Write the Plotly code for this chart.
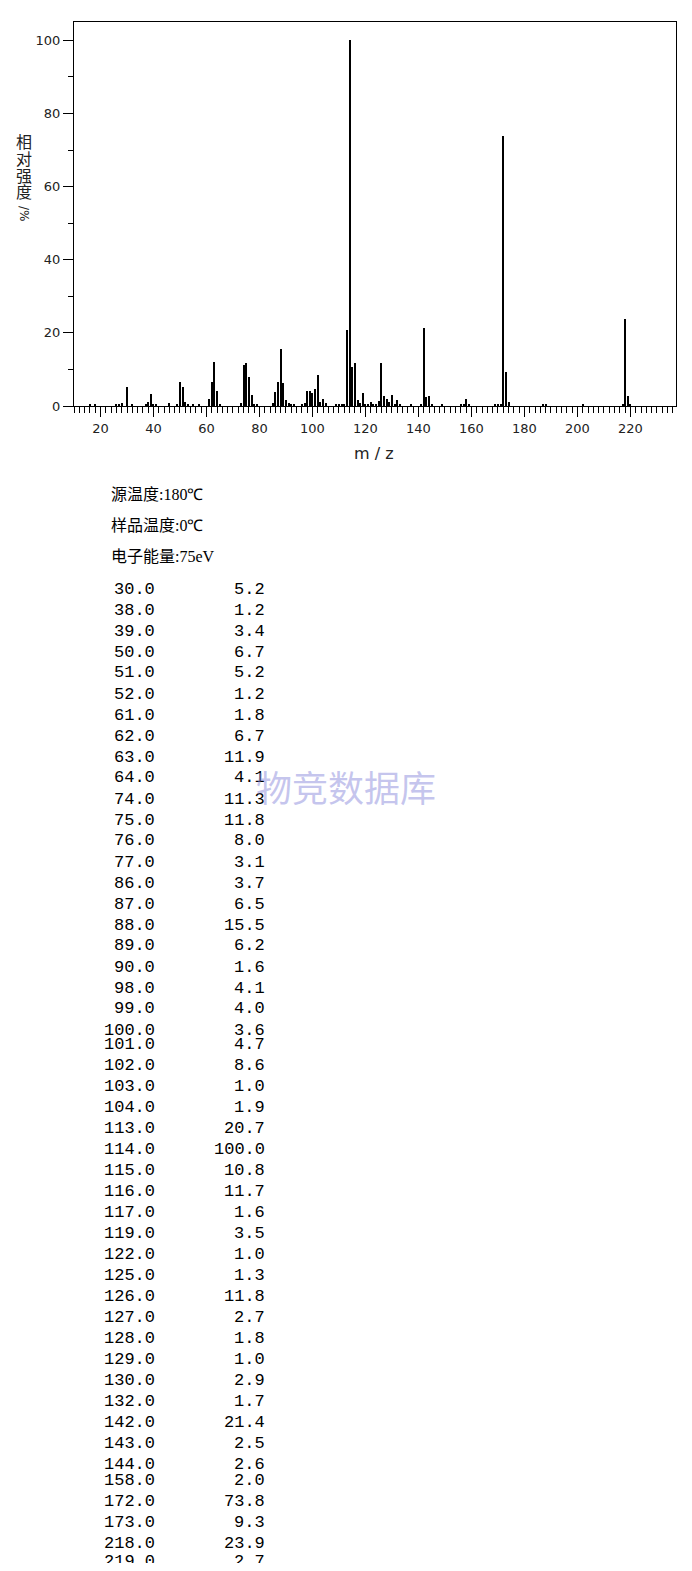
import plotly.graph_objects as go

# peaks listed in the table (m/z, relative intensity %)
mz = [30, 38, 39, 50, 51, 52, 61, 62, 63, 64,
      74, 75, 76, 77, 86, 87, 88, 89, 90, 98,
      99, 100, 101, 102, 103, 104, 113, 114, 115, 116,
      117, 119, 122, 125, 126, 127, 128, 129, 130, 132,
      142, 143, 144, 158, 172, 173, 218, 219]
intensity = [5.2, 1.2, 3.4, 6.7, 5.2, 1.2, 1.8, 6.7, 11.9, 4.1,
             11.3, 11.8, 8.0, 3.1, 3.7, 6.5, 15.5, 6.2, 1.6, 4.1,
             4.0, 3.6, 4.7, 8.6, 1.0, 1.9, 20.7, 100.0, 10.8, 11.7,
             1.6, 3.5, 1.0, 1.3, 11.8, 2.7, 1.8, 1.0, 2.9, 1.7,
             21.4, 2.5, 2.6, 2.0, 73.8, 9.3, 23.9, 2.7]

# small peaks only seen in the plot (estimated)
minor_mz = [16, 18, 26, 27, 28, 32, 37, 40, 41, 46, 49, 53, 55, 57, 65, 73, 78, 79,
            85, 91, 92, 93, 96, 97, 105, 109, 110, 111, 112, 118, 120, 121, 123, 124,
            131, 133, 137, 141, 145, 149, 156, 157, 159, 169, 170, 171, 174, 187, 188,
            202, 217, 220]
minor_int = [0.4, 0.6, 0.4, 0.5, 0.8, 0.4, 0.5, 0.3, 0.3, 0.8, 0.3, 0.3, 0.3, 0.3, 0.5, 0.8, 0.5, 0.3,
             0.8, 0.7, 0.4, 0.3, 0.3, 0.7, 0.8, 0.3, 0.4, 0.5, 0.5, 0.8, 0.5, 0.3, 0.4, 0.3,
             0.5, 0.5, 0.3, 0.6, 0.5, 0.3, 0.5, 0.3, 0.5, 0.3, 0.3, 0.4, 1.0, 0.3, 0.5,
             0.3, 0.6, 0.5]

info_labels = ["源温度", "样品温度", "电子能量"]
info_values = [":180℃", ":0℃", ":75eV"]

# page is 692x1571, the html body adds an 8px margin all round
PAD = 8
W, H = 692 - 2 * PAD, 1571 - 2 * PAD


def px(x):
    return (x - PAD) / W


def py(y):
    return 1 - (y - PAD) / H


fig = go.Figure()
fig.add_trace(go.Bar(x=mz + minor_mz, y=intensity + minor_int, width=0.38,
                     marker=dict(color="black", line=dict(width=0))))

tick_font = dict(family="DejaVu Sans", size=13, color="#222")
fig.update_layout(
    width=W, height=H,
    # last table row sits right at the page bottom; don't let it push the margins
    margin=dict(l=0, r=0, t=0, b=0, autoexpand=False),
    paper_bgcolor="white", plot_bgcolor="white",
    showlegend=False, bargap=0,
    xaxis=dict(domain=[px(74), px(675.5)], range=[10, 237], tick0=0, dtick=20,
               ticks="outside", ticklen=10, tickcolor="black", tickfont=tick_font,
               minor=dict(dtick=2, tick0=0, ticks="outside", ticklen=6, tickcolor="black"),
               showline=True, mirror=True, linecolor="black", linewidth=1,
               showgrid=False, zeroline=False),
    yaxis=dict(domain=[py(406), py(22)], range=[0, 105], tick0=0, dtick=20,
               ticks="outside", ticklen=10, tickcolor="black", tickfont=tick_font,
               minor=dict(dtick=10, ticks="outside", ticklen=5, tickcolor="black"),
               showline=True, mirror=True, linecolor="black", linewidth=1,
               showgrid=False, zeroline=False),
)

ann = []
# axis titles
ann.append(dict(x=px(374), y=py(454), text="m / z", font=dict(family="DejaVu Sans", size=16, color="#222")))
for i, ch in enumerate("相对强度"):
    ann.append(dict(x=px(24), y=py(141 + 16.8 * i), text=ch,
                    font=dict(family="Noto Sans CJK SC", size=16, color="#222")))
ann.append(dict(x=px(24), y=py(213), text="/%", textangle=90,
                font=dict(family="DejaVu Sans", size=12, color="#222")))

# experiment info
for i, (lab, val) in enumerate(zip(info_labels, info_values)):
    ann.append(dict(x=px(109), y=py(492.5 + 31 * i), xanchor="left",
                    text=lab + "<span style='font-family:Liberation Serif'>" + val + "</span>",
                    font=dict(family="Noto Sans CJK SC", size=16, color="black")))

# peak table
mono = dict(family="Liberation Mono, DejaVu Sans Mono", size=17, color="black")
for i, (m, v) in enumerate(zip(mz, intensity)):
    shift = 0
    if m == 101:
        shift = -7
    elif 101 < m <= 144:
        shift = -6.5
    elif m > 144:
        shift = -11.5
    yy = min(589 + 21 * i + shift, 1561)  # last row runs into the page bottom
    ann.append(dict(x=px(157), y=py(yy), text=f"{m:.1f}", xanchor="right", font=mono))
    ann.append(dict(x=px(267), y=py(yy), text=f"{v:.1f}", xanchor="right", font=mono))

# watermark
ann.append(dict(x=px(345.5), y=py(785.5), text="物竞数据库",
                font=dict(family="Noto Sans CJK SC", size=36, color="rgba(140,140,220,0.5)")))

for a in ann:
    a.update(xref="paper", yref="paper", showarrow=False, yanchor="middle")
    a.setdefault("xanchor", "center")
fig.update_layout(annotations=ann)

fig.write_html("out.html")
